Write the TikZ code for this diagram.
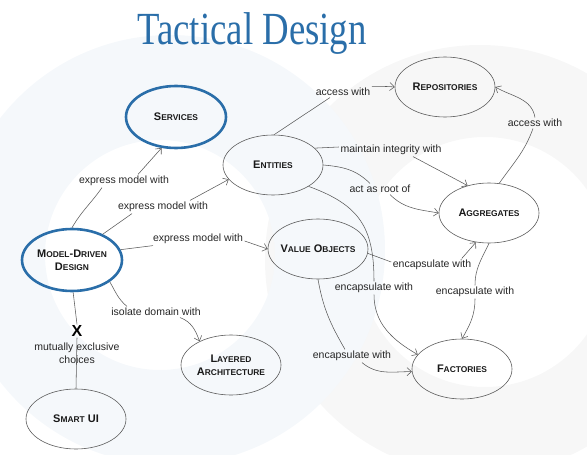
\documentclass[tikz,border=0pt]{standalone}
\usepackage{fontspec}
\setsansfont{Liberation Sans}
\newfontfamily\titlefont{Liberation Serif}
\usetikzlibrary{arrows.meta, shapes.geometric}

\definecolor{dddblue}{HTML}{2A6EA9}
\definecolor{linkgray}{HTML}{5A5A5A}
\definecolor{bgblue}{HTML}{F5F8FB}
\definecolor{bggray}{HTML}{F7F7F7}

% capital letter at full size, the rest as small capitals
\newcommand{\smcap}[2]{#1{\fontsize{8.4}{10}\selectfont #2}}

\begin{document}
\begin{tikzpicture}[x=1pt, y=1pt,
    concept/.style={ellipse, draw=linkgray, line width=0.6pt, minimum width=100pt, minimum height=60pt,
      inner sep=0pt, align=center, font=\sffamily\bfseries\fontsize{11}{13}\selectfont, text=black!90},
    core/.style={concept, draw=dddblue, line width=2.6pt, minimum height=62pt},
    lbl/.style={font=\sffamily\fontsize{10.5}{13}\selectfont, inner sep=1.5pt, text=black!85},
    link/.style={draw=linkgray, line width=0.55pt},
    rel/.style={link, -{Straight Barb[length=4.5pt, width=8pt]}}
  ]
  \useasboundingbox (0,0) rectangle (587,-455);

  % faint logo behind the diagram
  \begin{scope}
    \clip (0,0) rectangle (587,-455);
    \fill[bggray, even odd rule] (480,-260) circle (215) (485,-262) circle (125);
    \fill[bgblue, even odd rule] (170,-250) circle (215) (160,-255) circle (115);
  \end{scope}

  \node[anchor=base, text=dddblue, font=\titlefont\fontsize{46}{46}\selectfont] (title) at (252,-45)
    {\scalebox{0.8}[1]{Tactical Design}};

  \node[core] (serv) at (176,-117) {\smcap{S}{ERVICES}};
  \node[core] (mdd) at (72,-260) {\smcap{M}{ODEL}-\smcap{D}{RIVEN}\\\smcap{D}{ESIGN}};
  \node[concept] (ent) at (273,-165) {\smcap{E}{NTITIES}};
  \node[concept] (repo) at (445,-87) {\smcap{R}{EPOSITORIES}};
  \node[concept] (aggr) at (489,-213) {\smcap{A}{GGREGATES}};
  \node[concept, inner xsep=-3pt] (vo) at (318,-249) {\smcap{V}{ALUE} \smcap{O}{BJECTS}};
  \node[concept] (fact) at (462,-369) {\smcap{F}{ACTORIES}};
  \node[concept] (layer) at (231,-365) {\smcap{L}{AYERED}\\\smcap{A}{RCHITECTURE}};
  \node[concept] (smart) at (76,-419) {\smcap{S}{MART} UI};

  \node[lbl] (l1) at (124,-181) {express model with};
  \node[lbl] (l2) at (163,-207) {express model with};
  \node[lbl] (l3) at (198,-239) {express model with};
  \node[lbl] (l4) at (343,-92) {access with};
  \node[lbl] (l5) at (391,-150) {maintain integrity with};
  \node[lbl] (l6) at (380,-189) {act as root of};
  \node[lbl] (l7) at (535,-123) {access with};
  \node[lbl] (l8) at (432,-265) {encapsulate with};
  \node[lbl] (l9) at (374,-288) {encapsulate with};
  \node[lbl] (l10) at (475,-292) {encapsulate with};
  \node[lbl] (l11) at (352,-356) {encapsulate with};
  \node[lbl] (l12) at (156,-312) {isolate domain with};
  \node[font=\sffamily\bfseries\fontsize{16}{16}\selectfont, inner sep=1pt] (xmark) at (77,-331) {X};
  \node[lbl, align=center] (mexc) at (77,-353.5) {mutually exclusive\\choices};

  \draw[link] (mdd.north) to[out=60, in=235] ([xshift=-22pt]l1.south);
  \draw[rel] ([xshift=14pt]l1.north) -- (serv.245);
  \draw[link] (mdd.40) -- ([xshift=-31pt]l2.south);
  \draw[rel] ([xshift=27pt]l2.north) -- (ent.198);
  \draw[link] (mdd.12) -- ([xshift=-45pt]l3.south);
  \draw[rel] ([yshift=-2pt]l3.east) -- (vo.west);

  \draw[link] (ent.88) -- ([xshift=-13pt]l4.south);
  \draw[rel] (l4.north east) to[out=0, in=175] (repo.west);
  \draw[link] (ent.22) -- ([yshift=3pt]l5.west);
  \draw[rel] ([xshift=22pt]l5.south) -- (aggr.128);
  \draw[link] (ent.east) to[out=-5, in=135] ([xshift=-10pt]l6.north);
  \draw[rel] ([xshift=10pt]l6.south) to[out=-45, in=170] (aggr.west);
  \draw[link] (aggr.71) to[out=55, in=-110] ([xshift=-2pt]l7.south);
  \draw[rel] (l7.north) to[out=100, in=-30] (repo.east);

  \draw[link] (vo.-5) -- ([yshift=3pt]l8.west);
  \draw[rel] ([xshift=-11pt]l8.north east) -- (aggr.246);
  \draw[link] (ent.-31) to[out=-20, in=90, looseness=1.2] (l9.north);
  \draw[rel] (l9.south) to[out=-90, in=150] (fact.162);
  \draw[link] (aggr.south) to[out=-115, in=90] (l10.north);
  \draw[rel] (l10.south) to[out=-90, in=60] (fact.north);
  \draw[link] (vo.south) to[out=-80, in=120] ([xshift=-7pt]l11.north);
  \draw[rel] ([xshift=10pt]l11.south) to[out=-40, in=180] (fact.183);

  \draw[link] (mdd.-30) to[out=-60, in=140] ([xshift=-29pt]l12.north);
  \draw[rel] ([xshift=24pt]l12.south) to[out=-20, in=110] (layer.143);
  \draw[link] (mdd.-88) -- (xmark.north);
  \draw[link] (xmark.south) -- (smart.north);
\end{tikzpicture}
\end{document}
